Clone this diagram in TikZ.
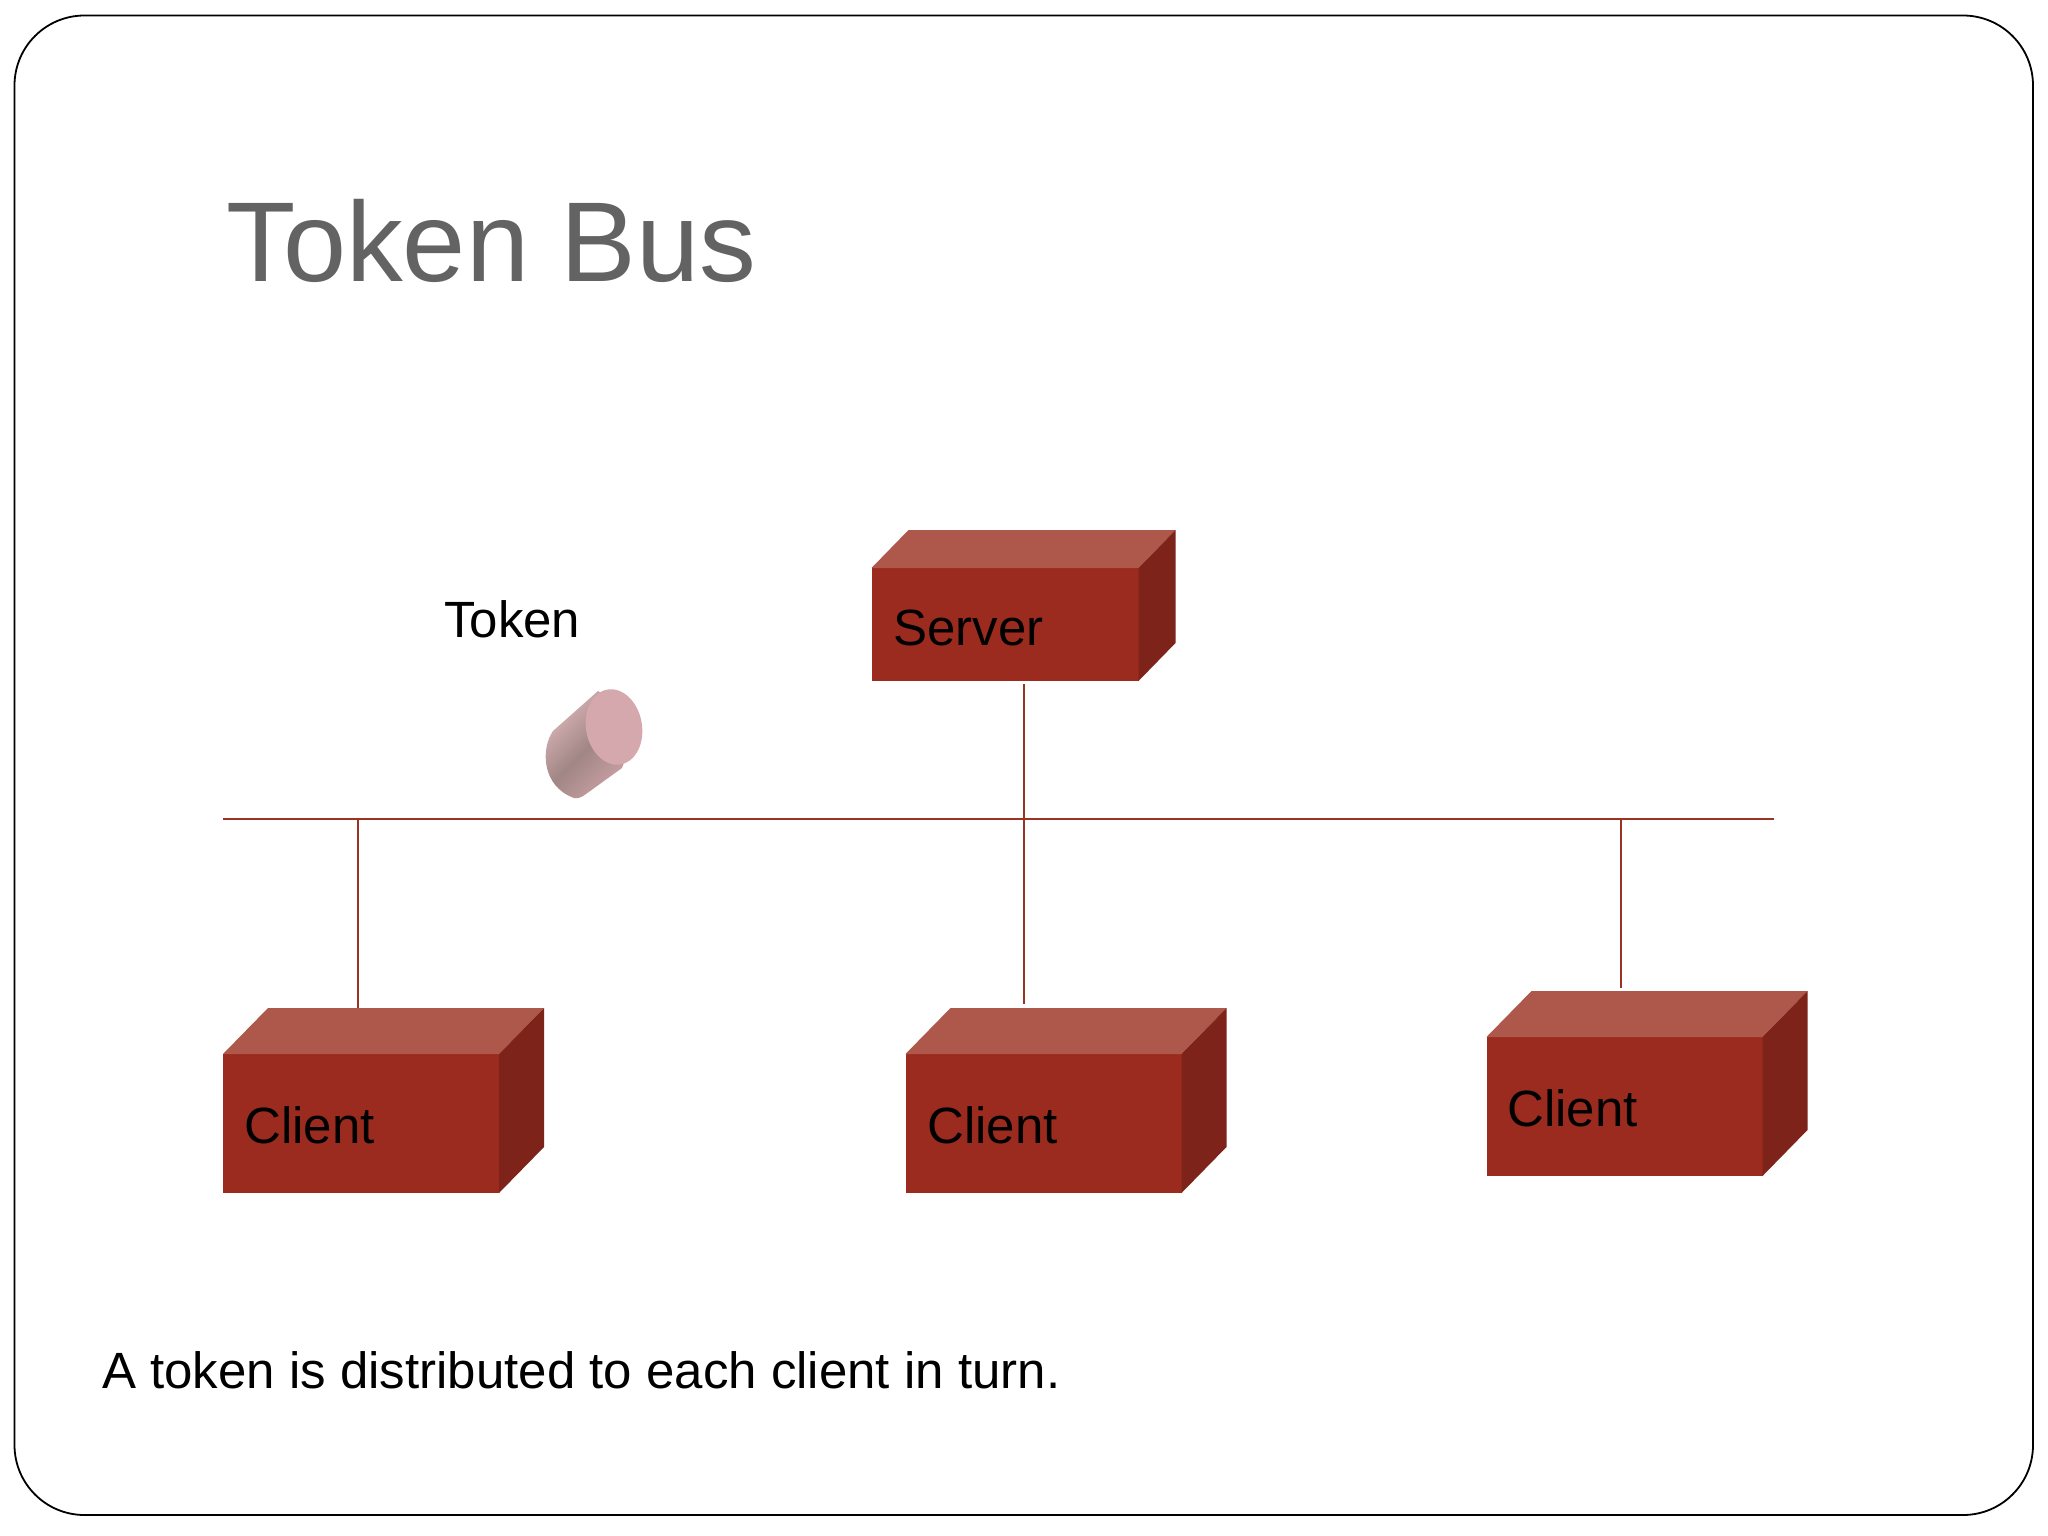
\documentclass[tikz,border=0pt]{standalone}
\usepackage{fontspec}
\setmainfont{Liberation Sans}
\definecolor{boxfront}{HTML}{9A2B1E}
\definecolor{boxtop}{HTML}{AE584C}
\definecolor{boxside}{HTML}{7E2319}
\definecolor{busline}{HTML}{9A3324}
\definecolor{titlegray}{HTML}{636363}
\definecolor{tokface}{HTML}{D4A8AC}
\definecolor{toklight}{HTML}{DDB6BA}
\definecolor{tokdark}{HTML}{A08684}
\definecolor{tokedge}{HTML}{D0A4A8}
\tikzset{
  frontface/.style={fill=boxfront,inner sep=0pt,outer sep=0pt,anchor=north west},
  topface/.style={fill=boxtop},
  sideface/.style={fill=boxside},
  wire/.style={draw=busline,line width=2.8pt},
  boxlabel/.style={anchor=base west,inner sep=0pt,text=black,font=\fontsize{51}{60}\selectfont},
  titletext/.style={anchor=base west,inner sep=0pt,text=titlegray,font=\fontsize{113.5}{130}\selectfont},
}
\newcommand{\brickbox}[7]{%
  \node[frontface,minimum width=#4pt,minimum height=#5pt] (#1) at (#2,#3) {};
  \fill[topface] (#1.north west) -- ++(#6,-#7) -- ++(#4,0) -- ++(-#6,#7) -- cycle;
  \fill[sideface] (#1.north east) -- ++(#6,-#7) -- ++(0,#5) -- ++(-#6,#7) -- cycle;
}
\begin{document}
\begin{tikzpicture}[x=1pt,y=-1pt]
\useasboundingbox (0,0) rectangle (2048,1536);
\fill[white] (0,0) rectangle (2048,1536);
\draw[black,line width=1.8pt,rounded corners=70pt] (14.5,15.5) rectangle (2033,1515);

\node[titletext] (title) at (226,281) {Token Bus};
\node[boxlabel] (toklabel) at (444,637) {Token};
\node[boxlabel] (caption) at (102,1388) {A token is distributed to each client in turn.};

\brickbox{server}{871.5}{568}{267}{113}{37}{38}
\brickbox{clienta}{223}{1054}{276}{139}{45}{46}
\brickbox{clientb}{905.5}{1054}{276}{139}{45}{46}
\brickbox{clientc}{1486.5}{1037}{276}{139}{45}{46}

\node[boxlabel] (serverlabel) at (893,645) {Server};
\node[boxlabel] (clientalabel) at (244,1143) {Client};
\node[boxlabel] (clientblabel) at (927,1143) {Client};
\node[boxlabel] (clientclabel) at (1507,1126) {Client};

\coordinate (busw) at (223,819);
\coordinate (buse) at (1774,819);
\coordinate (ja) at (358,819);
\coordinate (jc) at (1621,819);
\coordinate (servertap) at (1024,684);
\coordinate (clientatap) at (358,1008);
\coordinate (clientbtap) at (1024,1004);
\coordinate (clientctap) at (1621,988);
\draw[wire] (busw) -- (buse);
\draw[wire] (ja) -- (clientatap);
\draw[wire] (servertap) -- (clientbtap);
\draw[wire] (jc) -- (clientctap);

% token
\shade[top color=toklight,bottom color=tokedge,middle color=tokdark,shading angle=45]
  (598,691) -- (553,731) .. controls (541,748) and (541,786) .. (574,798) .. controls (578,799) and (582,797) .. (586,794)
  -- (622,768) -- (640,720) -- cycle;
\fill[tokface,rotate around={10:(614,727)}] (614,727) ellipse [x radius=28,y radius=38];
\end{tikzpicture}
\end{document}
